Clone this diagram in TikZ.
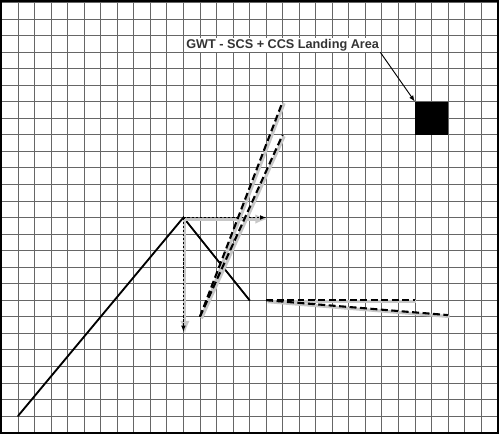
\documentclass[tikz,border=0pt]{standalone}
\usepackage{fontspec}
\setmainfont{Liberation Sans}
\usepackage{tikz}

\begin{document}
\begin{tikzpicture}[x=0.5cm, y=0.5cm, >=latex,
        gridline/.style={draw=black!60, line width=0.7pt},
        ridge/.style={thick, line width=1.6pt, line cap=round},
        shade/.style={preaction={draw=black!22, solid, line width=2.6pt, transform canvas={shift={(1.3pt,-1.3pt)}}}},
        track/.style={shade, line width=1.8pt, dash pattern=on 6pt off 3pt},
        guide/.style={shade, ->, line width=0.8pt, dash pattern=on 2pt off 1.5pt},
        every node/.style={inner sep=1pt}]
    \useasboundingbox (-1.088,-1.088) rectangle (29.08,25.15);
    \fill[white] (-1.088,-1.088) rectangle (29.08,25.15);
    \draw[gridline, step=1] (-1,-1) grid (29,25);
    \draw[line width=4pt] (-1.088,-1.088) rectangle (29.08,25.15);
    \coordinate (base) at (0,0);
    \coordinate (apex) at (10,12);
    \coordinate (knee) at (14,7);
    \coordinate (drop) at (10,5.1);
    \coordinate (reach) at (15,12);
    \coordinate (toe) at (11,6);
    \coordinate (tipA) at (16,19);
    \coordinate (tipB) at (16,17);
    \coordinate (heel) at (15,7);
    \coordinate (flatA) at (24,7);
    \coordinate (flatB) at (26,6.1);
    \node[fill, minimum size=1cm, inner sep=0pt] (area) at (25,18) {};
    \node[fill=white, text=black!80, font=\fontsize{10.9}{13}\selectfont\bfseries] (landing) at (16,22.43) {GWT - SCS + CCS Landing Area};
    \draw[ridge] (base) -- (apex) -- (knee);
    \draw[guide] (apex) -- (drop);
    \draw[guide] (apex) -- (reach);
    \draw[track] (toe) -- (tipA);
    \draw[track] (toe) -- (tipB);
    \draw[track] (heel) -- (flatA);
    \draw[track] (heel) -- (flatB);
    \draw[->, line width=0.8pt] (landing.south east) -- (area.north west);
\end{tikzpicture}
\end{document}
